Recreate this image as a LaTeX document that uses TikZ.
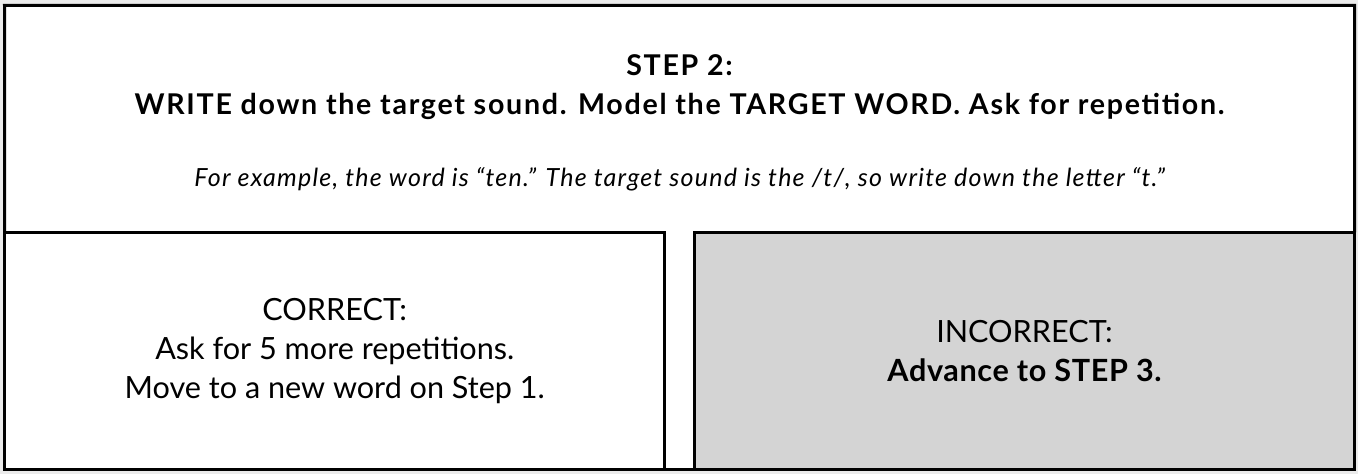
\documentclass[tikz,border=0pt]{standalone}
\usepackage{fontspec}
\setmainfont{Lato}
\definecolor{pagegray}{HTML}{EBEBEB}
\definecolor{boxgray}{HTML}{D4D4D4}
\tikzset{
    frame/.style={line width=1.5pt, line join=miter},
    box/.style={draw, frame, rectangle, outer sep=0pt, minimum height=118.5pt, minimum width=330pt, align=center, font=\fontsize{15.3}{19.5}\selectfont},
    head/.style={anchor=base, font=\bfseries\fontsize{14.3}{16}\selectfont\addfontfeature{LetterSpace=6}}
}

\begin{document}
\begin{tikzpicture}[x=0.5pt, y=-0.5pt]
    \fill[pagegray] (0,0) rectangle (1358,474);
    \fill[white] (4.5,5.5) rectangle (1354.5,469.5);
    \useasboundingbox (0,0) rectangle (1358,474);
    % lower boxes
    \node[box] (correct) at (334.75,351) {CORRECT:\\Ask for 5 more repetitions.\\Move to a new word on Step 1.};
    \node[box, fill=boxgray] (incorrect) at (1024.5,351) {INCORRECT:\\{\bfseries\addfontfeature{LetterSpace=2}Advance to STEP 3.}};
    % top box
    \draw[frame] (correct.north west) -- (4.5,5.5) -- (1354.5,5.5) -- (incorrect.north east);
    \draw[frame] (correct.south east) -- (incorrect.south west);
    \node[head] (step) at (679.5,76) {STEP 2:};
    \node[head] (task) at (679.5,115) {WRITE down the target sound. Model the TARGET WORD. Ask for repetition.};
    \node[anchor=base, font=\itshape\fontsize{12.5}{14}\selectfont\addfontfeature{LetterSpace=4.9}] (example) at (679.5,187) {For example, the word is “ten.” The target sound is the /t/, so write down the letter “t.”};
\end{tikzpicture}
\end{document}
